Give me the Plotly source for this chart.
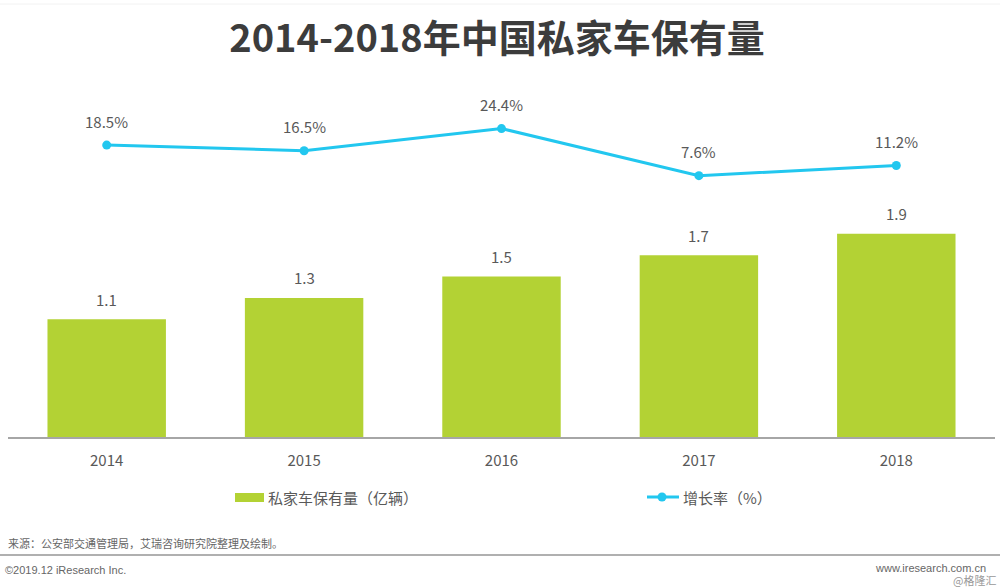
import plotly.graph_objects as go

years = ["2014", "2015", "2016", "2017", "2018"]
stock = [1.1, 1.3, 1.5, 1.7, 1.9]
growth = [18.5, 16.5, 24.4, 7.6, 11.2]
stock_labels = ["1.1", "1.3", "1.5", "1.7", "1.9"]
growth_labels = ["18.5%", "16.5%", "24.4%", "7.6%", "11.2%"]
bar_name = "私家车保有量（亿辆）"
line_name = "增长率（%）"

FONT = "Noto Sans CJK SC"
GREY = "#595959"
BAR_C = "#b3d234"
LINE_C = "#22c7ef"

# plot area in pixels: x 8..995, y 100..437
L, R, T, B = 8, 995, 100, 437
def px(xp):
    return (xp - L) / (R - L)
def py(yp):
    return (B - yp) / (B - T)

fig = go.Figure()
fig.add_trace(go.Bar(
    x=years, y=stock, name=bar_name,
    marker=dict(color=BAR_C, line=dict(width=0)),
    width=0.6, showlegend=False,
))
fig.add_trace(go.Scatter(
    x=years, y=growth, name=line_name, yaxis="y2",
    mode="lines+markers",
    line=dict(color=LINE_C, width=3),
    marker=dict(size=9, color=LINE_C),
    cliponaxis=False, showlegend=False,
))

for i, (v, t) in enumerate(zip(stock, stock_labels)):
    fig.add_annotation(x=i, y=v, text=t, xref="x", yref="y",
                       showarrow=False, yanchor="middle", yshift=20,
                       font=dict(size=15, color=GREY, family=FONT))
for i, (v, t) in enumerate(zip(growth, growth_labels)):
    fig.add_annotation(x=i, y=v, text=t, xref="x", yref="y2",
                       showarrow=False, yanchor="middle", yshift=24,
                       font=dict(size=15, color=GREY, family=FONT))

fig.update_layout(
    width=1000, height=588,
    margin=dict(l=L, r=1000 - R, t=T, b=588 - B),
    paper_bgcolor="white", plot_bgcolor="white",
    font=dict(family=FONT, color=GREY, size=13),
    showlegend=False,
    xaxis=dict(
        type="category", range=[-0.5, len(years) - 0.5],
        showline=True, linecolor="#a6a6a6", linewidth=1.5,
        ticks="", showgrid=False, ticklabelstandoff=9,
        tickfont=dict(size=15, color=GREY, family=FONT),
    ),
    yaxis=dict(range=[0, 3.15], visible=False, showgrid=False),
    yaxis2=dict(range=[-85.7, 34.6], overlaying="y", side="right",
                visible=False, showgrid=False),
    bargap=0.4,
    title=dict(
        text="<b>2014-2018年中国私家车保有量</b>",
        x=0.497, xanchor="center", y=0.935, yanchor="middle",
        font=dict(size=38, color="#3c3c3c", family=FONT),
    ),
)

# manual legend
fig.add_shape(type="rect", xref="paper", yref="paper",
              x0=px(235), x1=px(264), y0=py(502), y1=py(493),
              fillcolor=BAR_C, line=dict(width=0))
fig.add_annotation(text=bar_name, xref="paper", yref="paper",
                   x=px(266), y=py(497), xanchor="left", yanchor="middle",
                   showarrow=False, font=dict(size=15, color=GREY, family=FONT))
fig.add_shape(type="line", xref="paper", yref="paper",
              x0=px(647), x1=px(679), y0=py(497), y1=py(497),
              line=dict(color=LINE_C, width=3))
fig.add_shape(type="circle", xref="paper", yref="paper",
              x0=px(657.5), x1=px(666.5), y0=py(501.5), y1=py(492.5),
              fillcolor=LINE_C, line=dict(width=0))
fig.add_annotation(text=line_name, xref="paper", yref="paper",
                   x=px(681), y=py(497), xanchor="left", yanchor="middle",
                   showarrow=False, font=dict(size=15, color=GREY, family=FONT))

fig.add_annotation(
    text="来源：公安部交通管理局，艾瑞咨询研究院整理及绘制。",
    xref="paper", yref="paper", x=px(6), y=py(543),
    xanchor="left", yanchor="middle", showarrow=False,
    font=dict(size=11, color="#666666", family=FONT),
)
fig.add_annotation(
    text="©2019.12 iResearch Inc.",
    xref="paper", yref="paper", x=px(3), y=py(570),
    xanchor="left", yanchor="middle", showarrow=False,
    font=dict(size=11, color="#666666", family="Liberation Sans"),
)
fig.add_annotation(
    text="www.iresearch.com.cn",
    xref="paper", yref="paper", x=px(988), y=py(568),
    xanchor="right", yanchor="middle", showarrow=False,
    font=dict(size=11, color="#666666", family="Liberation Sans"),
)
fig.add_annotation(
    text="@格隆汇",
    xref="paper", yref="paper", x=px(998), y=py(580),
    xanchor="right", yanchor="middle", showarrow=False,
    font=dict(size=11, color="#999999", family=FONT),
)
fig.add_shape(type="line", xref="paper", yref="paper",
              x0=px(0), x1=px(1000), y0=py(555), y1=py(555),
              line=dict(color="#b0b0b0", width=2))
fig.add_shape(type="line", xref="paper", yref="paper",
              x0=px(0), x1=px(1000), y0=py(4), y1=py(4),
              line=dict(color="#f2f2f2", width=1))

fig.write_html("out.html")
